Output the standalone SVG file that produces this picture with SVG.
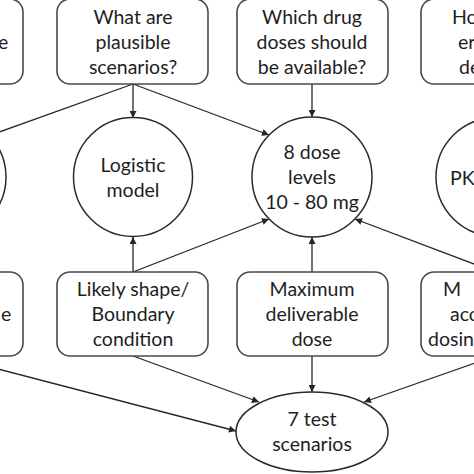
<svg xmlns="http://www.w3.org/2000/svg" width="474" height="474" viewBox="0 0 474 474">
<defs>
<style>
.box{fill:#fff;stroke:#4a4a4a;stroke-width:1.6}
.node{fill:#fff;stroke:#2a2a2a;stroke-width:1.5}
.t{font-family:Lato,"Liberation Sans",sans-serif;font-size:19.5px;fill:#1e1e1e;text-anchor:middle}
.ts{font-family:Lato,"Liberation Sans",sans-serif;font-size:19.5px;fill:#1e1e1e;text-anchor:start}
.e{fill:none;stroke:#262626;stroke-width:1.3}
</style>
<marker id="a" viewBox="0 0 10 10" refX="10" refY="5" markerWidth="8" markerHeight="7" markerUnits="userSpaceOnUse" orient="auto">
<path d="M0,0L10,5L0,10z" fill="#262626"/>
</marker>
</defs>
<rect width="474" height="474" fill="#fff"/>

<g id="connectors">
<line class="e" x1="133" y1="84" x2="133" y2="118" marker-end="url(#a)"/>
<line class="e" x1="133" y1="84" x2="-20" y2="139" marker-end="url(#a)"/>
<line class="e" x1="133" y1="84" x2="269" y2="135" marker-end="url(#a)"/>
<line class="e" x1="312" y1="84" x2="312" y2="117" marker-end="url(#a)"/>
<line class="e" x1="133" y1="272" x2="133" y2="237" marker-end="url(#a)"/>
<line class="e" x1="133" y1="272" x2="269" y2="219" marker-end="url(#a)"/>
<line class="e" x1="312" y1="272" x2="312" y2="237" marker-end="url(#a)"/>
<line class="e" x1="495" y1="272" x2="355" y2="219" marker-end="url(#a)"/>
<line class="e" x1="133" y1="356" x2="259" y2="402" marker-end="url(#a)"/>
<line class="e" x1="-52" y1="356" x2="236" y2="431" marker-end="url(#a)"/>
<line class="e" x1="312" y1="356" x2="312" y2="392" marker-end="url(#a)"/>
<line class="e" x1="495" y1="356" x2="364" y2="402" marker-end="url(#a)"/>
</g>

<g id="q-left">
<rect class="box" x="-128" y="-1" width="151" height="85" rx="13"/>
<text class="ts" x="-2" y="49">e</text>
</g>
<g id="q-scenarios">
<rect class="box" x="57" y="-1" width="151" height="85" rx="13"/>
<text class="t" x="133" y="24">What are</text>
<text class="t" x="133" y="49">plausible</text>
<text class="t" x="133" y="74">scenarios?</text>
</g>
<g id="q-doses">
<rect class="box" x="237" y="-1" width="151" height="85" rx="13"/>
<text class="t" x="312" y="24">Which drug</text>
<text class="t" x="312" y="49">doses should</text>
<text class="t" x="312" y="74">be available?</text>
</g>
<g id="q-right">
<rect class="box" x="421" y="-1" width="151" height="85" rx="13"/>
<text class="ts" x="452" y="24">Ho</text>
<text class="ts" x="458" y="49">er</text>
<text class="ts" x="459" y="74">de</text>
</g>

<g id="c-left">
<circle class="node" cx="-53" cy="177" r="59"/>
</g>
<g id="c-logistic">
<circle class="node" cx="133" cy="177" r="59.5"/>
<text class="t" x="133" y="172">Logistic</text>
<text class="t" x="133" y="197">model</text>
</g>
<g id="c-dose">
<circle class="node" cx="312" cy="177" r="60"/>
<text class="t" x="312" y="159">8 dose</text>
<text class="t" x="312" y="184">levels</text>
<text class="t" x="312" y="209">10 - 80 mg</text>
</g>
<g id="c-pk">
<circle class="node" cx="495" cy="177" r="59"/>
<text class="ts" x="450" y="185">PK</text>
</g>

<g id="m-left">
<rect class="box" x="-128" y="272" width="151" height="84" rx="13"/>
<text class="ts" x="1" y="321">e</text>
</g>
<g id="m-shape">
<rect class="box" x="57" y="272" width="151" height="84" rx="13"/>
<text class="t" x="133" y="296">Likely shape/</text>
<text class="t" x="133" y="321">Boundary</text>
<text class="t" x="133" y="346">condition</text>
</g>
<g id="m-max">
<rect class="box" x="237" y="272" width="151" height="84" rx="13"/>
<text class="t" x="312" y="296">Maximum</text>
<text class="t" x="312" y="321">deliverable</text>
<text class="t" x="312" y="346">dose</text>
</g>
<g id="m-right">
<rect class="box" x="421" y="272" width="151" height="84" rx="13"/>
<text class="ts" x="443" y="296">M</text>
<text class="ts" x="450" y="321">acc</text>
<text class="ts" x="428" y="346">dosin</text>
</g>

<g id="e-scenarios">
<ellipse class="node" cx="312" cy="432" rx="76" ry="40"/>
<text class="t" x="312" y="426">7 test</text>
<text class="t" x="312" y="451">scenarios</text>
</g>
</svg>
